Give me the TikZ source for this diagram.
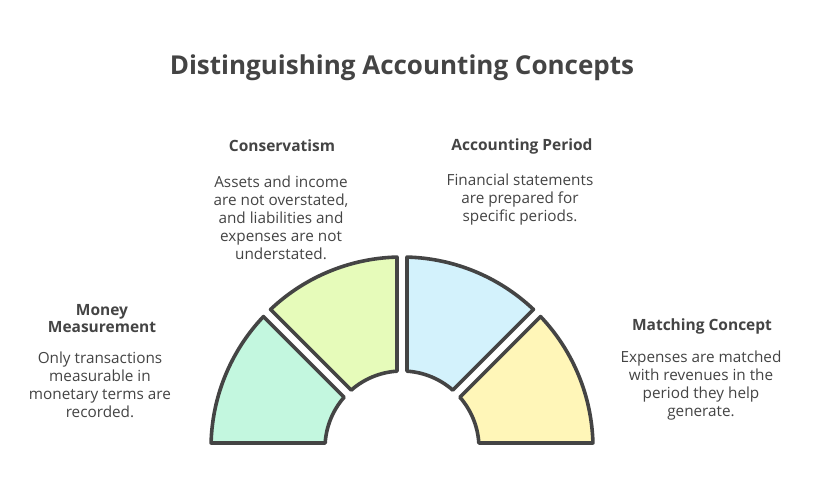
\documentclass[tikz,border=0pt]{standalone}
\usepackage{fontspec}
\setmainfont{Open Sans}
\usetikzlibrary{calc}
\definecolor{ink}{HTML}{444444}
\definecolor{mint}{HTML}{C3F7DF}
\definecolor{lime}{HTML}{E6FBBA}
\definecolor{sky}{HTML}{D3F2FC}
\definecolor{butter}{HTML}{FFF6B8}
\newcommand{\ringseg}[3]{%
  \filldraw[seg, fill=#1] ($(C)+({#2+1.5}:191)$)
    arc[start angle={#2+1.5}, end angle={#3-1.5}, radius=191]
    -- ($(C)+({#3-3.72}:77)$)
    arc[start angle={#3-3.72}, end angle={#2+3.72}, radius=77] -- cycle;}
\begin{document}
\begin{tikzpicture}[x=1pt,y=1pt,
  seg/.style={draw=ink, line width=3.6pt, line join=round},
  ttl/.style={text=ink, font=\bfseries\fontsize{26}{30}\selectfont},
  head/.style={text=ink, font=\bfseries\fontsize{15.5}{17}\selectfont, align=center},
  body/.style={text=ink, font=\fontsize{15.3}{18}\selectfont, align=center}]
\useasboundingbox[fill=white] (0,0) rectangle (816,493);
\coordinate (C) at (402,45);
\ringseg{mint}{135}{180}
\ringseg{lime}{90}{135}
\ringseg{sky}{45}{90}
\ringseg{butter}{0}{45}
\node[ttl] (title) at (402,425) {Distinguishing Accounting Concepts};
\node[head] (h1) at (102,174.5) {Money\\Measurement};
\node[body] (b1) at (100,108) {Only transactions\\measurable in\\monetary terms are\\recorded.};
\node[head] (h2) at (282,347) {Conservatism};
\node[body] (b2) at (281,275) {Assets and income\\are not overstated,\\and liabilities and\\expenses are not\\understated.};
\node[head] (h3) at (522,347) {Accounting Period};
\node[body] (b3) at (520,293) {Financial statements\\are prepared for\\specific periods.};
\node[head] (h4) at (702,167) {Matching Concept};
\node[body] (b4) at (701,107) {Expenses are matched\\with revenues in the\\period they help\\generate.};
\end{tikzpicture}
\end{document}
